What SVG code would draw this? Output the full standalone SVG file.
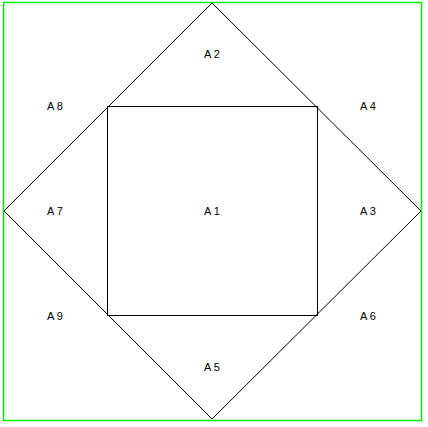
<svg xmlns="http://www.w3.org/2000/svg" width="428" height="427" viewBox="0 0 428 427">
<style>
.ln{fill:none;stroke:#000;stroke-width:1}
text{font-family:"Liberation Sans",Arial,sans-serif;font-size:11px;fill:#000;text-anchor:middle;dominant-baseline:central}
</style>
<rect x="0" y="0" width="428" height="427" fill="#fff"/>
<rect x="3.5" y="2.5" width="418" height="418" fill="none" stroke="#888" stroke-width="1"/>
<rect x="3.5" y="2.5" width="418" height="418" fill="none" stroke="#00ee00" stroke-width="1.5"/>
<g id="connectors">
<polygon class="ln" points="212,3 421,211 212,419 4,211"/>
</g>
<g id="A1"><rect class="ln" x="107.5" y="106.5" width="210" height="209"/><text x="212" y="211">A 1</text></g>
<g id="A2"><text x="212" y="54">A 2</text></g>
<g id="A3"><text x="368" y="211">A 3</text></g>
<g id="A4"><text x="368" y="106">A 4</text></g>
<g id="A5"><text x="212" y="367">A 5</text></g>
<g id="A6"><text x="368" y="316">A 6</text></g>
<g id="A7"><text x="55" y="211">A 7</text></g>
<g id="A8"><text x="55" y="106">A 8</text></g>
<g id="A9"><text x="55" y="316">A 9</text></g>
</svg>
